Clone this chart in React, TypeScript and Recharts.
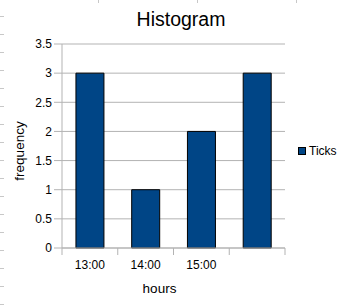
import React from 'react';
import { Bar, BarChart, CartesianGrid, Legend, XAxis, YAxis } from 'recharts';

const hours = ['13:00', '14:00', '15:00', ''];
const tickCounts = [3, 1, 2, 3];
const frequencyTicks = [0, 0.5, 1, 1.5, 2, 2.5, 3, 3.5];

const data = hours.map((hour, i) => ({ hour, count: tickCounts[i] }));

const gridGray = '#b3b3b3';
const sheetGray = '#c8c8c8';

// LibreOffice-style histogram ticks: marks sit on the bin edges, labels in the middle
const HourTick = ({ x, y, payload, index }: any) => {
  const half = payload.offset || 0;
  const last = index === hours.length - 1;
  return (
    <g>
      <line x1={x - half} x2={x - half} y1={y} y2={y + 7} stroke={gridGray} />
      {last && <line x1={x + half} x2={x + half} y1={y} y2={y + 7} stroke={gridGray} />}
      <text x={x} y={y + 12} dy="0.71em" textAnchor="middle" fontSize={12} fill="#000">
        {payload.value}
      </text>
    </g>
  );
};

const LegendBox = ({ payload }: any) => (
  <div style={{ display: 'flex', flexDirection: 'column' }}>
    {(payload || []).map((entry: any) => (
      <div key={entry.value} style={{ display: 'flex', alignItems: 'center', fontSize: 12, color: '#000' }}>
        <span
          style={{
            display: 'inline-block',
            width: 6,
            height: 6,
            background: entry.color,
            border: '1px solid #000',
            marginRight: 3,
          }}
        />
        {entry.value}
      </div>
    ))}
  </div>
);

export default function App() {
  return (
    <div
      style={{
        position: 'absolute',
        left: 0,
        top: 0,
        width: 355,
        height: 307,
        background: '#fff',
        fontFamily: '"Liberation Sans", Arial, sans-serif',
        overflow: 'hidden',
      }}
    >
      {/* spreadsheet cell borders peeking out behind the chart */}
      <div
        style={{
          position: 'absolute',
          left: 0,
          top: 0,
          width: 4,
          height: 307,
          background: `repeating-linear-gradient(to bottom, transparent 0 16px, ${sheetGray} 16px 17px, transparent 17px 18px)`,
        }}
      />
      <div
        style={{
          position: 'absolute',
          left: 0,
          top: 0,
          width: 355,
          height: 3,
          background: `repeating-linear-gradient(to right, transparent 0 98px, ${sheetGray} 98px 99px)`,
        }}
      />
      <div
        style={{
          position: 'absolute',
          left: 0,
          top: 8,
          width: 362,
          textAlign: 'center',
          fontSize: 19.5,
          color: '#000',
        }}
      >
        Histogram
      </div>
      <div style={{ position: 'absolute', left: 0, top: 0 }}>
        <BarChart
          width={355}
          height={307}
          data={data}
          margin={{ top: 44, right: 70, bottom: 9, left: 0 }}
          barCategoryGap="25%"
        >
          <CartesianGrid vertical={false} stroke={gridGray} />
          <XAxis
            dataKey="hour"
            height={50}
            interval={0}
            stroke={gridGray}
            tickLine={false}
            tickSize={0}
            tickMargin={0}
            tick={<HourTick />}
            label={{ value: 'hours', position: 'insideBottom', offset: 5, dx: -14, fill: '#000', fontSize: 13.5 }}
          />
          <YAxis
            width={62}
            domain={[0, 3.5]}
            ticks={frequencyTicks}
            interval={0}
            tickSize={8}
            tickMargin={2}
            stroke={gridGray}
            tick={{ fill: '#000', fontSize: 12 }}
            label={{ value: 'frequency', angle: -90, position: 'center', dx: -12, dy: 5, fill: '#000', fontSize: 13.5 }}
          />
          <YAxis
            yAxisId="frame"
            orientation="right"
            width={0}
            domain={[0, 3.5]}
            tick={false}
            tickLine={false}
            stroke={gridGray}
          />
          <Legend
            layout="horizontal"
            verticalAlign="middle"
            align="center"
            wrapperStyle={{ left: 298, top: 144, width: 'auto', height: 'auto' }}
            content={LegendBox}
          />
          <Bar
            dataKey="count"
            name="Ticks"
            fill="#004586"
            stroke="#000"
            strokeWidth={1}
            isAnimationActive={false}
          />
        </BarChart>
      </div>
    </div>
  );
}
